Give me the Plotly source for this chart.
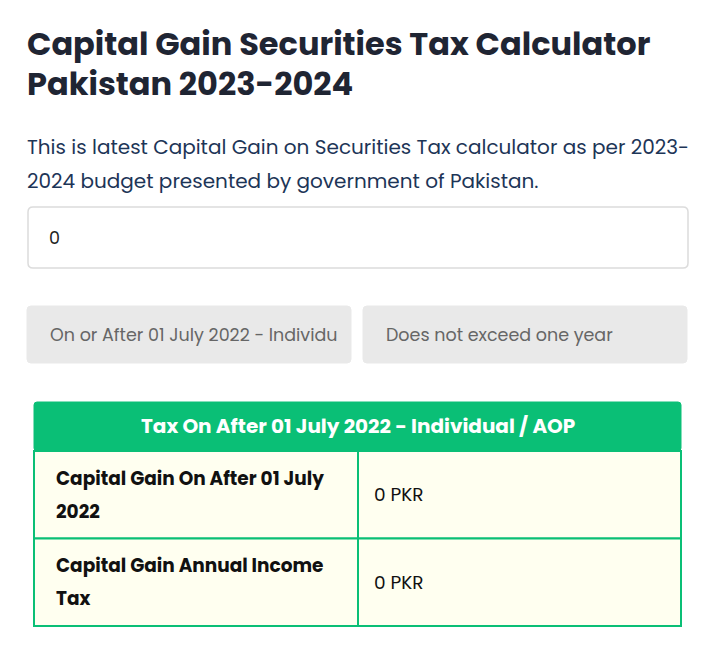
import plotly.graph_objects as go

title_lines = ["Capital Gain Securities Tax Calculator", "Pakistan 2023-2024"]
para_lines = ["This is latest Capital Gain on Securities Tax calculator as per 2023-",
              "2024 budget presented by government of Pakistan."]
input_value = "0"
select_labels = ["On or After 01 July 2022 - Individu", "Does not exceed one year"]
table_header = "Tax On After 01 July 2022 - Individual / AOP"
row_labels = [["Capital Gain On After 01 July", "2022"], ["Capital Gain Annual Income", "Tax"]]
row_values = ["0 PKR", "0 PKR"]

FONT = "Poppins, Inter, Open Sans, sans-serif"
O = 8  # page body margin offset
fig = go.Figure()
shapes, ann = [], []

def rrect(x0, y0, x1, y1, r, fill, line, lw=1):
    x0, x1, y0, y1 = x0 - O, x1 - O, y0 - O, y1 - O
    p = (f"M{x0+r},{y0} L{x1-r},{y0} Q{x1},{y0} {x1},{y0+r} L{x1},{y1-r} Q{x1},{y1} {x1-r},{y1} "
         f"L{x0+r},{y1} Q{x0},{y1} {x0},{y1-r} L{x0},{y0+r} Q{x0},{y0} {x0+r},{y0} Z")
    shapes.append(dict(type="path", path=p, fillcolor=fill, line=dict(color=line, width=lw), layer="below"))

def text(x, y, s, size, color, bold=False, xanchor="left"):
    ann.append(dict(x=x - O, y=y - O, text=f"<b>{s}</b>" if bold else s, showarrow=False, xanchor=xanchor,
                    yanchor="middle", align="left", font=dict(family=FONT, size=size, color=color)))

for i, t in enumerate(title_lines):
    text(25, 43 + i * 40, t, 32, "#1f2533", bold=True)
for i, t in enumerate(para_lines):
    text(25, 147 + i * 34, t, 20, "#1d3557")

rrect(28, 207, 688, 268, 5, "#ffffff", "#dcdcdc", 1.5)
text(47, 238, input_value, 17.5, "#222")

sel_x = [(27, 351), (363, 687)]
for (x0, x1), lab in zip(sel_x, select_labels):
    rrect(x0, 306, x1, 363, 4, "#e9e9e9", "#e9e9e9")
    text(x0 + 21, 335, lab, 17.5, "#666")

green = "#0abf76"
tx0, tx1, tmid = 34, 681, 358
rrect(tx0, 402, tx1, 451, 3, green, green)
text((tx0 + tx1) / 2, 426, table_header, 20, "white", bold=True, xanchor="center")
row_h = 87.5
for i, (lab, val) in enumerate(zip(row_labels, row_values)):
    y0 = 451 + i * row_h
    y1 = y0 + row_h
    for x0, x1 in [(tx0, tmid), (tmid, tx1)]:
        shapes.append(dict(type="rect", x0=x0 - O, x1=x1 - O, y0=y0 - O, y1=y1 - O, fillcolor="#fffff0",
                           line=dict(color=green, width=2), layer="below"))
    cy = (y0 + y1) / 2
    for j, line in enumerate(lab):
        text(54, cy - 16.5 + j * 33, line, 18.5, "#111", bold=True)
    text(372, cy, val, 18.5, "#111")

fig.update_layout(width=719, height=667, margin=dict(l=0, r=0, t=0, b=0),
                  plot_bgcolor="white", paper_bgcolor="white", shapes=shapes, annotations=ann,
                  xaxis=dict(range=[0, 719], visible=False, fixedrange=True),
                  yaxis=dict(range=[667, 0], visible=False, fixedrange=True), showlegend=False)
fig.write_html("out.html")
